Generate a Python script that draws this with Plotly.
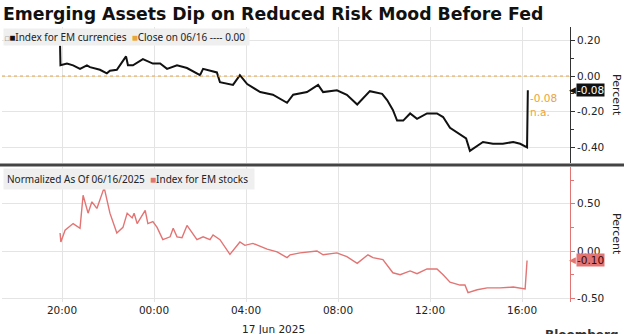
import plotly.graph_objects as go

# ---------------- data ----------------
fx_times = ["2025-06-16 19:55", "2025-06-16 19:56", "2025-06-16 20:13", "2025-06-16 20:29",
            "2025-06-16 20:47", "2025-06-16 21:05", "2025-06-16 21:13", "2025-06-16 21:39",
            "2025-06-16 21:57", "2025-06-16 22:05", "2025-06-16 22:23", "2025-06-16 22:47",
            "2025-06-16 22:52", "2025-06-16 23:05", "2025-06-16 23:31", "2025-06-16 23:57",
            "2025-06-17 00:16", "2025-06-17 00:34", "2025-06-17 01:00", "2025-06-17 01:26",
            "2025-06-17 02:00", "2025-06-17 02:08", "2025-06-17 02:44", "2025-06-17 02:52",
            "2025-06-17 03:26", "2025-06-17 03:44", "2025-06-17 04:03", "2025-06-17 04:37",
            "2025-06-17 05:10", "2025-06-17 05:47", "2025-06-17 06:03", "2025-06-17 06:39",
            "2025-06-17 07:08", "2025-06-17 07:21", "2025-06-17 07:57", "2025-06-17 08:23",
            "2025-06-17 08:50", "2025-06-17 09:16", "2025-06-17 09:23", "2025-06-17 09:55",
            "2025-06-17 10:08", "2025-06-17 10:23", "2025-06-17 10:34", "2025-06-17 10:50",
            "2025-06-17 11:08", "2025-06-17 11:26", "2025-06-17 11:52", "2025-06-17 12:18",
            "2025-06-17 12:34", "2025-06-17 12:52", "2025-06-17 13:18", "2025-06-17 13:34",
            "2025-06-17 13:44", "2025-06-17 14:03", "2025-06-17 14:18", "2025-06-17 14:44",
            "2025-06-17 15:10", "2025-06-17 15:37", "2025-06-17 15:55", "2025-06-17 16:13",
            "2025-06-17 16:15"]
fx_values = [0.17, 0.06, 0.07, 0.06,
             0.04, 0.06, 0.05, 0.035,
             0.015, 0.03, 0.035, 0.11,
             0.06, 0.06, 0.095, 0.07,
             0.07, 0.04, 0.06, 0.045,
             0.005, 0.04, 0.02, -0.035,
             -0.05, 0.005, -0.045, -0.09,
             -0.105, -0.15, -0.105, -0.09,
             -0.05, -0.09, -0.08, -0.105,
             -0.16, -0.10, -0.085, -0.10,
             -0.135, -0.19, -0.25, -0.25,
             -0.21, -0.24, -0.21, -0.21,
             -0.23, -0.29, -0.33, -0.35,
             -0.42, -0.39, -0.37, -0.38,
             -0.38, -0.37, -0.38, -0.40,
             -0.08]

eq_times = ["2025-06-16 19:55", "2025-06-16 19:57", "2025-06-16 20:08", "2025-06-16 20:29",
            "2025-06-16 20:47", "2025-06-16 20:55", "2025-06-16 21:08", "2025-06-16 21:18",
            "2025-06-16 21:31", "2025-06-16 21:39", "2025-06-16 21:50", "2025-06-16 22:05",
            "2025-06-16 22:23", "2025-06-16 22:39", "2025-06-16 22:50", "2025-06-16 23:03",
            "2025-06-16 23:08", "2025-06-16 23:16", "2025-06-16 23:37", "2025-06-16 23:44",
            "2025-06-16 23:57", "2025-06-17 00:08", "2025-06-17 00:23", "2025-06-17 00:42",
            "2025-06-17 00:50", "2025-06-17 01:00", "2025-06-17 01:13", "2025-06-17 01:26",
            "2025-06-17 01:52", "2025-06-17 02:08", "2025-06-17 02:26", "2025-06-17 02:34",
            "2025-06-17 02:52", "2025-06-17 03:18", "2025-06-17 03:44", "2025-06-17 03:57",
            "2025-06-17 04:18", "2025-06-17 04:55", "2025-06-17 05:21", "2025-06-17 05:47",
            "2025-06-17 05:55", "2025-06-17 06:21", "2025-06-17 07:05", "2025-06-17 07:21",
            "2025-06-17 07:57", "2025-06-17 08:23", "2025-06-17 08:50", "2025-06-17 09:18",
            "2025-06-17 09:31", "2025-06-17 09:57", "2025-06-17 10:23", "2025-06-17 10:42",
            "2025-06-17 11:08", "2025-06-17 11:26", "2025-06-17 11:52", "2025-06-17 12:18",
            "2025-06-17 12:34", "2025-06-17 12:52", "2025-06-17 13:18", "2025-06-17 13:31",
            "2025-06-17 13:39", "2025-06-17 14:03", "2025-06-17 14:29", "2025-06-17 15:03",
            "2025-06-17 15:37", "2025-06-17 16:08", "2025-06-17 16:13"]
eq_values = [0.19, 0.095, 0.22, 0.29,
             0.24, 0.59, 0.40, 0.52,
             0.45, 0.54, 0.67, 0.40,
             0.19, 0.25, 0.40, 0.35,
             0.40, 0.29, 0.43, 0.29,
             0.31, 0.25, 0.12, 0.15,
             0.24, 0.15, 0.14, 0.27,
             0.12, 0.15, 0.12, 0.17,
             0.12, -0.035, 0.095, 0.06,
             0.08, 0.02, -0.01, -0.07,
             -0.04, -0.02, 0.0, -0.04,
             -0.02, -0.06, -0.13, -0.04,
             -0.07, -0.09, -0.23, -0.25,
             -0.21, -0.24, -0.19, -0.19,
             -0.25, -0.33, -0.36, -0.36,
             -0.44, -0.41, -0.39, -0.39,
             -0.38, -0.40, -0.10]

close_value = 0.00
top_ticks = [0.20, 0.00, -0.20, -0.40]
bottom_ticks = [0.50, 0.00, -0.50]

title_text = "Emerging Assets Dip on Reduced Risk Mood Before Fed"
fx_name = "Index for EM currencies"
eq_name = "Index for EM stocks"

# ---------------- styling ----------------
FONT = "DejaVu Sans"
LFONT = "Noto Sans"
BLACK = "#111111"
RED = "#e27473"
ORANGE = "#eaa43c"
GRID = "#e4e4e4"

W, H = 624, 334
ML, MR, MT, MB = 2, 54, 27, 32
PW, PH = W - ML - MR, H - MT - MB


def px_x(px):
    return (px - ML) / PW


def px_y(py):
    return (H - MB - py) / PH


fig = go.Figure()
fig.add_trace(go.Scatter(x=fx_times, y=fx_values, mode="lines", line=dict(color=BLACK, width=2),
                         xaxis="x", yaxis="y", showlegend=False, hoverinfo="skip"))
fig.add_trace(go.Scatter(x=eq_times, y=eq_values, mode="lines", line=dict(color=RED, width=1.4),
                         xaxis="x2", yaxis="y2", showlegend=False, hoverinfo="skip"))

x_range = ["2025-06-16 17:23:30", "2025-06-17 18:05"]
common_x = dict(type="date", range=x_range, dtick=4 * 3600 * 1000, tick0="2025-06-16 20:00",
                showgrid=True, gridcolor=GRID, gridwidth=1, zeroline=False, showline=False, ticks="")
top_dom = [px_y(163), 1.0]
bot_dom = [0.0, px_y(167)]

fig.update_layout(
    width=W, height=H, margin=dict(l=ML, r=MR, t=MT, b=MB),
    paper_bgcolor="white", plot_bgcolor="white",
    font=dict(family=FONT, size=10.5, color="#222222"),
    xaxis=dict(common_x, domain=[0, 1], anchor="y", showticklabels=False, matches="x2"),
    xaxis2=dict(common_x, domain=[0, 1], anchor="y2", tickformat="%H:%M",
                tickfont=dict(size=10.5, color="#222222")),
    yaxis=dict(domain=top_dom, range=[-0.488, 0.275], side="right", anchor="x",
               tickvals=top_ticks, ticktext=[f"{v:.2f}" for v in top_ticks],
               showgrid=True, gridcolor=GRID, zeroline=False,
               showline=True, linecolor="#333333", linewidth=1,
               ticks="outside", ticklen=4, tickcolor="#333333",
               minor=dict(dtick=0.1, ticks="outside", ticklen=3, tickcolor="#333333", showgrid=False),
               tickfont=dict(size=10.5, color="#222222")),
    yaxis2=dict(domain=bot_dom, range=[-0.539, 0.888], side="right", anchor="x2",
                tickvals=bottom_ticks, ticktext=[f"{v:.2f}" for v in bottom_ticks],
                showgrid=True, gridcolor=GRID, zeroline=False,
                showline=True, linecolor=RED, linewidth=1,
                ticks="outside", ticklen=4, tickcolor=RED,
                minor=dict(dtick=0.25, ticks="outside", ticklen=3, tickcolor=RED, showgrid=False),
                tickfont=dict(size=10.5, color="#222222")),
)

# close line (orange dotted at 0)
fig.add_shape(type="line", xref="x", yref="y", x0=x_range[0], x1=x_range[1], y0=close_value, y1=close_value,
              line=dict(color=ORANGE, width=1, dash="dot"))

# separator between panels
fig.add_shape(type="line", xref="paper", yref="paper", x0=px_x(0), x1=px_x(624), y0=px_y(165), y1=px_y(165),
              line=dict(color="#444444", width=3))

annotations = []
# title
annotations.append(dict(text="<b>" + title_text + "</b>", xref="paper", yref="paper", x=px_x(1), y=px_y(2),
                        xanchor="left", yanchor="top", showarrow=False,
                        font=dict(family=FONT, size=17.3, color="#111111")))
# top legend box
annotations.append(dict(
    text=("<span style='color:#555555;font-size:7px'>□</span><span style='color:#111111'>■</span>" + fx_name +
          "  <span style='color:" + ORANGE + "'>■</span>Close on 06/16 ---- 0.00 "),
    xref="paper", yref="paper", x=px_x(3), y=px_y(28), xanchor="left", yanchor="top", showarrow=False,
    bgcolor="#efefef", borderpad=1, font=dict(family=LFONT, size=10, color="#222222")))
# bottom legend box
annotations.append(dict(
    text="Normalized As Of 06/16/2025  <span style='color:" + RED + "'>■</span>" + eq_name + " ",
    xref="paper", yref="paper", x=px_x(3), y=px_y(168), xanchor="left", yanchor="top", showarrow=False,
    bgcolor="#efefef", borderpad=3, font=dict(family=LFONT, size=10, color="#222222")))
# orange last-value labels
annotations.append(dict(text="-0.08<br>n.a.", xref="x", yref="y", x=fx_times[-1], y=fx_values[-1],
                        xanchor="left", yanchor="top", align="left", showarrow=False,
                        font=dict(family=FONT, size=10.5, color=ORANGE)))
# value tags
annotations.append(dict(text=f"{fx_values[-1]:.2f}", xref="paper", yref="y", x=px_x(576), y=fx_values[-1],
                        xanchor="left", yanchor="middle", showarrow=False, bgcolor=BLACK, borderpad=0,
                        font=dict(family=FONT, size=10.5, color="white")))
annotations.append(dict(text="◀", xref="paper", yref="y", x=px_x(578), y=fx_values[-1],
                        xanchor="right", yanchor="middle", showarrow=False,
                        font=dict(family=FONT, size=9, color=BLACK)))
annotations.append(dict(text=f"{eq_values[-1]:.2f}", xref="paper", yref="y2", x=px_x(576), y=eq_values[-1],
                        xanchor="left", yanchor="middle", showarrow=False, bgcolor=RED, borderpad=0,
                        font=dict(family=FONT, size=10.5, color="#3a0a0a")))
annotations.append(dict(text="◀", xref="paper", yref="y2", x=px_x(578), y=eq_values[-1],
                        xanchor="right", yanchor="middle", showarrow=False,
                        font=dict(family=FONT, size=9, color=RED)))
# Percent labels
annotations.append(dict(text="Percent", xref="paper", yref="paper", x=px_x(617), y=px_y(95),
                        xanchor="center", yanchor="middle", textangle=90, showarrow=False,
                        font=dict(family=FONT, size=11, color="#222222")))
annotations.append(dict(text="Percent", xref="paper", yref="paper", x=px_x(617), y=px_y(234),
                        xanchor="center", yanchor="middle", textangle=90, showarrow=False,
                        font=dict(family=FONT, size=11, color="#222222")))
# date label
annotations.append(dict(text="17 Jun 2025", xref="x2", yref="paper", x="2025-06-17 04:00", y=px_y(321),
                        xanchor="left", yanchor="top", xshift=-6, showarrow=False,
                        font=dict(family=FONT, size=10.5, color="#222222")))
# source (cut off at bottom edge)
annotations.append(dict(text="<b>Bloomberg</b>", xref="paper", yref="paper", x=px_x(543), y=px_y(326),
                        xanchor="left", yanchor="top", showarrow=False,
                        font=dict(family=FONT, size=12, color="#333333")))
fig.update_layout(annotations=annotations)

fig.write_html("out.html")
